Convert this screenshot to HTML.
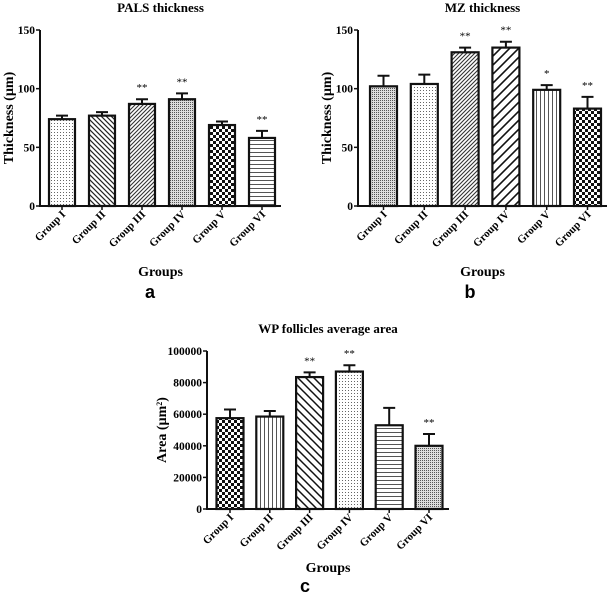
<!DOCTYPE html>
<html><head><meta charset="utf-8"><style>
html,body{margin:0;padding:0;background:#fff;}
svg{display:block;}
text{font-family:"Liberation Serif",serif;font-weight:bold;fill:#000;}
</style></head><body>
<svg id="chart" width="609" height="596" viewBox="0 0 609 596" xmlns="http://www.w3.org/2000/svg">
<defs>
<pattern id="p-dots" width="3" height="3" patternUnits="userSpaceOnUse"><rect width="3" height="3" fill="#fff"/><rect width="1" height="1" fill="#666"/></pattern>
<pattern id="p-dense" width="2" height="2" patternUnits="userSpaceOnUse"><rect width="2" height="2" fill="#ddd"/><rect width="1" height="1" fill="#555"/></pattern>
<pattern id="p-back" width="5" height="5" patternUnits="userSpaceOnUse"><rect width="5" height="5" fill="#fff"/><path d="M0,0L5,5M-1,4L1,6M4,-1L6,1" stroke="#222" stroke-width="1.2"/></pattern>
<pattern id="p-backw" width="8" height="8" patternUnits="userSpaceOnUse"><rect width="8" height="8" fill="#fff"/><path d="M0,0L8,8M-1,7L1,9M7,-1L9,1" stroke="#111" stroke-width="1.5"/></pattern>
<pattern id="p-fwd" width="4" height="4" patternUnits="userSpaceOnUse"><rect width="4" height="4" fill="#fff"/><path d="M0,4L4,0M-1,1L1,-1M3,5L5,3" stroke="#333" stroke-width="1.1"/></pattern>
<pattern id="p-fwdw" width="9" height="9" patternUnits="userSpaceOnUse"><rect width="9" height="9" fill="#fff"/><path d="M0,9L9,0M-1,1L1,-1M8,10L10,8" stroke="#111" stroke-width="1.6"/></pattern>
<pattern id="p-check" width="6" height="6" patternUnits="userSpaceOnUse"><rect width="6" height="6" fill="#fff"/><rect width="3" height="3" fill="#111"/><rect x="3" y="3" width="3" height="3" fill="#111"/></pattern>
<pattern id="p-hor" width="4" height="4" patternUnits="userSpaceOnUse"><rect width="4" height="4" fill="#fff"/><rect width="4" height="1" fill="#555"/></pattern>
<pattern id="p-ver" width="4" height="4" patternUnits="userSpaceOnUse"><rect width="4" height="4" fill="#fff"/><rect width="1" height="4" fill="#555"/></pattern>
</defs>
</svg>
<script>
const categories = ["Group I","Group II","Group III","Group IV","Group V","Group VI"];
const palsValues = [74, 77, 87, 91, 69, 58];
const palsErrors = [3, 3, 4, 5, 3, 6];
const palsStars = ["", "", "**", "**", "", "**"];
const mzValues = [102, 104, 131, 135, 99, 83];
const mzErrors = [9, 8, 4, 5, 4, 10];
const mzStars = ["", "", "**", "**", "*", "**"];
const wpValues = [57500, 58500, 83500, 87000, 53000, 40000];
const wpErrors = [5500, 3500, 3000, 4000, 11000, 7500];
const wpStars = ["", "", "**", "**", "", "**"];
const thickTicks = [0, 50, 100, 150];
const areaTicks = [0, 20000, 40000, 60000, 80000, 100000];

const NS = "http://www.w3.org/2000/svg";
const svg = document.getElementById('chart');
function mk(tag, attrs, parent, txt){
  const e = document.createElementNS(NS, tag);
  for (const k in attrs) e.setAttribute(k, attrs[k]);
  if (txt !== undefined) e.textContent = txt;
  (parent||svg).appendChild(e); return e;
}
function panel(cfg){
  const g = mk('g', {});
  
  
  const ymax = cfg.ticks[cfg.ticks.length-1];
  const yS = v => cfg.y0 - (v / ymax) * (cfg.y0 - cfg.y1);
  const xS = i => cfg.xc0 + i * cfg.step;
  const t = mk('text', {x:(cfg.ax+cfg.axEnd)/2, y:cfg.titleY, 'text-anchor':'middle','font-size':13}, g, cfg.title);
  
  
  cfg.values.forEach((v,i)=>{
    const x = xS(i) - cfg.bw/2, y = yS(v);
    const top = yS(v + cfg.errors[i]);
    const eb = mk('path', {d:`M${xS(i)},${y}V${top}M${xS(i)-6},${top}H${xS(i)+6}`, stroke:'#111','stroke-width':2, fill:'none'}, g);
    
    
    const r = mk('rect', {x:x, y:y, width:cfg.bw, height:cfg.y0-y, fill:`url(#${cfg.fills[i]})`, stroke:'#111','stroke-width':2.2}, g);
    
    
    if (cfg.stars[i]) {
      const s = mk('text', {x:xS(i), y:top-8, 'text-anchor':'middle','font-size':11, fill:'#333', style:'font-weight:normal'}, g, cfg.stars[i]);
      
      
    }
    const lx = xS(i)+4, ly = cfg.y0+9;
    const lab = mk('text', {x:lx, y:ly, 'text-anchor':'end','font-size':11, transform:`rotate(-45 ${lx} ${ly})`}, g, categories[i]);
    
    
    mk('line', {x1:xS(i), x2:xS(i), y1:cfg.y0, y2:cfg.y0+4, stroke:'#111','stroke-width':1.5}, g);
  });
  const axes = mk('path', {d:`M${cfg.ax},${cfg.y1}V${cfg.y0}H${cfg.axEnd}`, stroke:'#111','stroke-width':2, fill:'none'}, g);
  
  
  cfg.ticks.forEach(tv=>{
    mk('line', {x1:cfg.ax-4, x2:cfg.ax, y1:yS(tv), y2:yS(tv), stroke:'#111','stroke-width':1.5}, g);
    const tl = mk('text', {x:cfg.ax-5, y:yS(tv)+4, 'text-anchor':'end','font-size':11.5}, g, String(tv));
    
    
  });
  const ym = (cfg.y0+cfg.y1)/2;
  const yt = mk('text', {x:cfg.ytX, y:ym, 'text-anchor':'middle','font-size':14, transform:`rotate(-90 ${cfg.ytX} ${ym})`}, g);
  
  
  yt.innerHTML = cfg.ytitle;
  const xt = mk('text', {x:(cfg.ax+cfg.axEnd)/2, y:cfg.xtY, 'text-anchor':'middle','font-size':14}, g, 'Groups');
  
  
  const pl = mk('text', {x:cfg.letterX, y:cfg.letterY, 'text-anchor':'middle','font-size':18, style:'font-family:"Liberation Sans",sans-serif'}, g, cfg.letter);
  
  
}
panel({name:'pals-thickness-chart', title:'PALS thickness', titleY:12, values:palsValues, errors:palsErrors, stars:palsStars,
  ticks:thickTicks, ax:40, axEnd:281, y0:206, y1:30, xc0:62, step:40, bw:26,
  fills:['p-dots','p-back','p-fwd','p-dense','p-check','p-hor'], ytX:13, xtY:276,
  ytitle:'Thickness (µm)', letter:'a', letterX:150, letterY:298});
panel({name:'mz-thickness-chart', title:'MZ thickness', titleY:12, values:mzValues, errors:mzErrors, stars:mzStars,
  ticks:thickTicks, ax:358, axEnd:607, y0:206, y1:30, xc0:383.5, step:40.8, bw:27,
  fills:['p-dense','p-dots','p-fwd','p-fwdw','p-ver','p-check'], ytX:331, xtY:276,
  ytitle:'Thickness (µm)', letter:'b', letterX:470, letterY:298});
panel({name:'wp-follicles-area-chart', title:'WP follicles average area', titleY:333, values:wpValues, errors:wpErrors, stars:wpStars,
  ticks:areaTicks, ax:207, axEnd:449, y0:509, y1:351, xc0:230, step:39.8, bw:27,
  fills:['p-check','p-ver','p-backw','p-dots','p-hor','p-dense'], ytX:166, xtY:572,
  ytitle:'Area (µm<tspan baseline-shift="super" font-size="8">2</tspan>)', letter:'c', letterX:305, letterY:592});
</script>
</body></html>
